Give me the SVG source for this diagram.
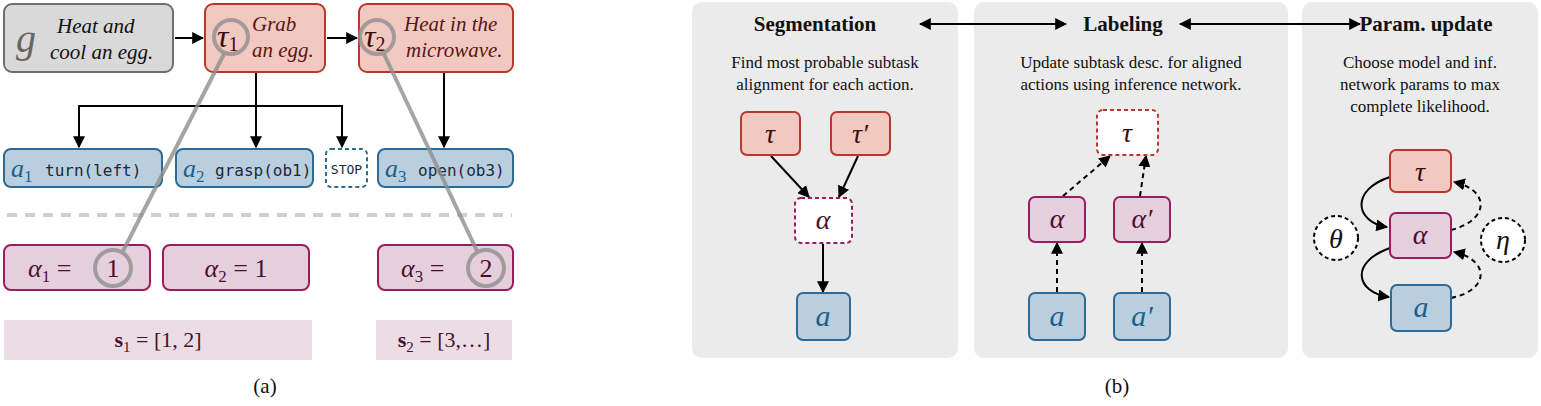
<svg xmlns="http://www.w3.org/2000/svg" width="1541" height="406" viewBox="0 0 1541 406">
<style>
text{font-family:"Liberation Serif","DejaVu Serif",serif;fill:#111}
.m{font-style:italic}
.mono{font-family:"DejaVu Sans Mono","Liberation Mono",monospace;fill:#1b2a36}
.g{fill:#d9d9d9;stroke:#6e6e6e;stroke-width:2}
.t{fill:#f2c9c1;stroke:#b8382b;stroke-width:2}
.a{fill:#b9cfdf;stroke:#2d6a94;stroke-width:2}
.al{fill:#e6cfdc;stroke:#9b1c5e;stroke-width:2}
.s{fill:#ecdde5}
.pan{fill:#ebebeb}
.c{fill:none;stroke:#000;stroke-width:2}
.cd{fill:none;stroke:#000;stroke-width:2;stroke-dasharray:5 4}
.hl{fill:none;stroke:#8f8f8f;stroke-opacity:.8;stroke-width:4}
</style>
<defs>
<marker id="ar" viewBox="0 0 10 10" refX="9" refY="5" markerWidth="6" markerHeight="6" orient="auto-start-reverse"><path d="M0,0L10,5L0,10z" fill="#000"/></marker>
</defs>
<g id="panels"><rect class="pan" x="692" y="2" width="266" height="356" rx="10"/><rect class="pan" x="974" y="2" width="314" height="356" rx="10"/><rect class="pan" x="1302" y="2" width="236" height="356" rx="10"/></g>
<g id="connectors">
<path class="c" d="M175,38H203" marker-end="url(#ar)"/>
<path class="c" d="M327,38H357" marker-end="url(#ar)"/>
<path class="c" d="M256,72V147" marker-end="url(#ar)"/>
<path class="c" d="M79,147V106H342V147" marker-start="url(#ar)" marker-end="url(#ar)"/>
<path class="c" d="M444,72V147" marker-end="url(#ar)"/>
<line x1="7" y1="215" x2="512" y2="215" stroke="#cfcfcf" stroke-width="4" stroke-dasharray="10 8"/>
<path class="c" d="M920,24H1066" marker-start="url(#ar)" marker-end="url(#ar)"/>
<path class="c" d="M1180,24H1360" marker-start="url(#ar)" marker-end="url(#ar)"/>
<path class="c" stroke-width="1.5" d="M771,156L809,197" marker-end="url(#ar)"/>
<path class="c" stroke-width="1.5" d="M858,156L839,197" marker-end="url(#ar)"/>
<path class="c" stroke-width="1.5" d="M823,244V292" marker-end="url(#ar)"/>
<path class="cd" stroke-width="1.5" d="M1057,292V243" marker-end="url(#ar)"/>
<path class="cd" stroke-width="1.5" d="M1142,292V243" marker-end="url(#ar)"/>
<path class="cd" stroke-width="1.5" d="M1063,196L1110,156" marker-end="url(#ar)"/>
<path class="cd" stroke-width="1.5" d="M1140,196L1146,156" marker-end="url(#ar)"/>
<path class="c" stroke-width="1.5" d="M1390,177C1350,190 1355,222 1387,227" marker-end="url(#ar)"/>
<path class="c" stroke-width="1.5" d="M1390,248C1350,262 1355,292 1389,297" marker-end="url(#ar)"/>
<path class="cd" stroke-width="1.5" d="M1451,230C1490,220 1490,190 1454,182" marker-end="url(#ar)"/>
<path class="cd" stroke-width="1.5" d="M1451,298C1490,290 1490,260 1454,252" marker-end="url(#ar)"/>
</g>
<g id="g"><rect class="g" x="4" y="4" width="169" height="68" rx="8"/><text x="16" y="52" font-size="40" class="m" style="fill:#666">g</text><text x="57" y="33" font-size="21" class="m">Heat and</text><text x="50" y="59" font-size="21" class="m">cool an egg.</text></g>
<g id="tau1"><rect class="t" x="205" y="4" width="120" height="68" rx="8"/><text x="217" y="47" font-size="32" class="m" style="fill:#3a0d10">τ<tspan font-size="20" dy="4" font-style="normal">1</tspan></text><text x="252" y="31" font-size="21" class="m" style="fill:#5a1515">Grab</text><text x="252" y="57" font-size="21" class="m" style="fill:#5a1515">an egg.</text></g>
<g id="tau2"><rect class="t" x="359" y="4" width="154" height="68" rx="8"/><text x="364" y="47" font-size="32" class="m" style="fill:#3a0d10">τ<tspan font-size="20" dy="4" font-style="normal">2</tspan></text><text x="404" y="31" font-size="21" class="m" style="fill:#5a1515">Heat in the</text><text x="406" y="57" font-size="21" class="m" style="fill:#5a1515">microwave.</text></g>
<g id="a1"><rect class="a" x="4" y="149" width="158" height="38" rx="7"/><text x="11" y="177" font-size="26" class="m" style="fill:#1f5f8b">a<tspan font-size="17" dy="5" font-style="normal">1</tspan></text><text x="45" y="176" font-size="16" class="mono">turn(left)</text></g>
<g id="a2"><rect class="a" x="176" y="149" width="137" height="38" rx="7"/><text x="183" y="177" font-size="26" class="m" style="fill:#1f5f8b">a<tspan font-size="17" dy="5" font-style="normal">2</tspan></text><text x="215" y="176" font-size="16" class="mono">grasp(ob1)</text></g>
<g id="stop"><rect x="326" y="149" width="41" height="38" rx="5" fill="#fff" stroke="#2d6a94" stroke-width="2" stroke-dasharray="4 3"/><text x="346.5" y="174" font-size="13" text-anchor="middle" class="mono">STOP</text></g>
<g id="a3"><rect class="a" x="378" y="149" width="135" height="38" rx="7"/><text x="385" y="177" font-size="26" class="m" style="fill:#1f5f8b">a<tspan font-size="17" dy="5" font-style="normal">3</tspan></text><text x="418" y="176" font-size="16" class="mono">open(ob3)</text></g>
<g id="al1"><rect class="al" x="4" y="245" width="146" height="45" rx="7"/><text x="28" y="277" font-size="26" style="fill:#4a0f2c"><tspan font-style="italic">α</tspan><tspan font-size="17" dy="5">1</tspan><tspan dy="-5"> =</tspan></text><text x="113" y="277" font-size="26" text-anchor="middle" style="fill:#4a0f2c">1</text></g>
<g id="al2"><rect class="al" x="163" y="245" width="146" height="45" rx="7"/><text x="236" y="277" font-size="26" text-anchor="middle" style="fill:#4a0f2c"><tspan font-style="italic">α</tspan><tspan font-size="17" dy="5">2</tspan><tspan dy="-5"> = 1</tspan></text></g>
<g id="al3"><rect class="al" x="378" y="245" width="135" height="45" rx="7"/><text x="401" y="277" font-size="26" style="fill:#4a0f2c"><tspan font-style="italic">α</tspan><tspan font-size="17" dy="5">3</tspan><tspan dy="-5"> =</tspan></text><text x="486" y="277" font-size="26" text-anchor="middle" style="fill:#4a0f2c">2</text></g>
<g id="hl"><circle class="hl" cx="231" cy="37" r="17"/><circle class="hl" cx="113" cy="268" r="18"/><line class="hl" x1="224" y1="54" x2="123" y2="251"/><circle class="hl" cx="377" cy="37" r="17"/><circle class="hl" cx="486" cy="268" r="18"/><line class="hl" x1="384" y1="54" x2="477" y2="251"/></g>
<g id="s1"><rect class="s" x="4" y="320" width="308" height="40"/><text x="158" y="347" font-size="22" text-anchor="middle" style="fill:#4a0f2c"><tspan font-weight="bold">s</tspan><tspan font-size="15" dy="5">1</tspan><tspan dy="-5"> = [1, 2]</tspan></text></g>
<g id="s2"><rect class="s" x="376" y="320" width="136" height="40"/><text x="444" y="347" font-size="22" text-anchor="middle" style="fill:#4a0f2c"><tspan font-weight="bold">s</tspan><tspan font-size="15" dy="5">2</tspan><tspan dy="-5"> = [3,…]</tspan></text></g>
<text x="265" y="393" font-size="21" text-anchor="middle">(a)</text>
<text x="1117" y="393" font-size="21" text-anchor="middle">(b)</text>
<g id="seg"><text x="815" y="31" font-size="21" font-weight="bold" text-anchor="middle">Segmentation</text><text x="825" y="68" font-size="17" text-anchor="middle">Find most probable subtask</text><text x="825" y="90" font-size="17" text-anchor="middle">alignment for each action.</text></g>
<g id="lab"><text x="1123" y="31" font-size="21" font-weight="bold" text-anchor="middle">Labeling</text><text x="1131" y="68" font-size="17" text-anchor="middle">Update subtask desc. for aligned</text><text x="1131" y="90" font-size="17" text-anchor="middle">actions using inference network.</text></g>
<g id="par"><text x="1426" y="31" font-size="21" font-weight="bold" text-anchor="middle">Param. update</text><text x="1420" y="68" font-size="17" text-anchor="middle">Choose model and inf.</text><text x="1420" y="90" font-size="17" text-anchor="middle">network params to max</text><text x="1420" y="112" font-size="17" text-anchor="middle">complete likelihood.</text></g>
<g id="p1tau"><rect class="t" x="741" y="112" width="59" height="43" rx="6"/><text x="770" y="143" font-size="28" class="m" text-anchor="middle" style="fill:#3a0d10">τ</text></g>
<g id="p1tau2"><rect class="t" x="831" y="112" width="59" height="43" rx="6"/><text x="860" y="143" font-size="28" class="m" text-anchor="middle" style="fill:#3a0d10">τ′</text></g>
<g id="p1al"><rect x="795" y="198" width="57" height="45" rx="6" fill="#fff" stroke="#9b1c5e" stroke-width="2" stroke-dasharray="4 3"/><text x="823" y="229" font-size="28" class="m" text-anchor="middle" style="fill:#4a0f2c">α</text></g>
<g id="p1a"><rect class="a" x="797" y="293" width="53" height="47" rx="6"/><text x="823" y="326" font-size="30" class="m" text-anchor="middle" style="fill:#1f5f8b">a</text></g>
<g id="p2tau"><rect x="1097" y="110" width="61" height="45" rx="6" fill="#fff" stroke="#b8382b" stroke-width="2" stroke-dasharray="4 3"/><text x="1127" y="142" font-size="28" class="m" text-anchor="middle" style="fill:#3a0d10">τ</text></g>
<g id="p2al"><rect class="al" x="1029" y="197" width="56" height="45" rx="6"/><text x="1057" y="228" font-size="28" class="m" text-anchor="middle" style="fill:#4a0f2c">α</text></g>
<g id="p2al2"><rect class="al" x="1114" y="197" width="56" height="45" rx="6"/><text x="1142" y="228" font-size="28" class="m" text-anchor="middle" style="fill:#4a0f2c">α′</text></g>
<g id="p2a"><rect class="a" x="1029" y="293" width="56" height="47" rx="6"/><text x="1057" y="326" font-size="30" class="m" text-anchor="middle" style="fill:#1f5f8b">a</text></g>
<g id="p2a2"><rect class="a" x="1114" y="293" width="56" height="47" rx="6"/><text x="1142" y="326" font-size="30" class="m" text-anchor="middle" style="fill:#1f5f8b">a′</text></g>
<g id="p3tau"><rect class="t" x="1390" y="150" width="61" height="42" rx="6"/><text x="1420" y="181" font-size="28" class="m" text-anchor="middle" style="fill:#3a0d10">τ</text></g>
<g id="p3al"><rect class="al" x="1390" y="213" width="61" height="45" rx="6"/><text x="1420" y="244" font-size="28" class="m" text-anchor="middle" style="fill:#4a0f2c">α</text></g>
<g id="p3a"><rect class="a" x="1391" y="285" width="60" height="46" rx="6"/><text x="1421" y="317" font-size="30" class="m" text-anchor="middle" style="fill:#1f5f8b">a</text></g>
<g id="theta"><circle cx="1336" cy="238" r="22" fill="#fff" stroke="#000" stroke-width="2" stroke-dasharray="4 3"/><text x="1336" y="248" font-size="28" class="m" text-anchor="middle">θ</text></g>
<g id="eta"><circle cx="1503" cy="240" r="22" fill="#fff" stroke="#000" stroke-width="2" stroke-dasharray="4 3"/><text x="1503" y="249" font-size="28" class="m" text-anchor="middle">η</text></g>
</svg>
